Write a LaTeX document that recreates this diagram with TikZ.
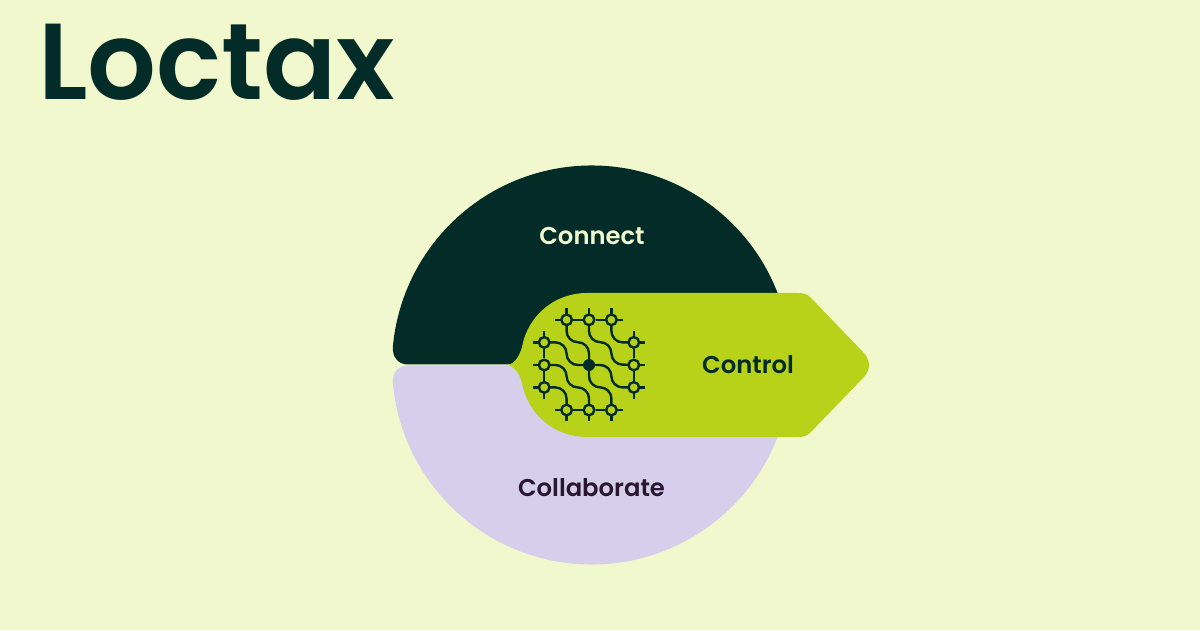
\documentclass[tikz,border=0pt]{standalone}
\usepackage{fontspec}
\usetikzlibrary{backgrounds}
\setmainfont{Poppins}[UprightFont=* SemiBold,BoldFont=* Bold]
\definecolor{bgc}{HTML}{F2F8CE}
\definecolor{darkc}{HTML}{032B27}
\definecolor{limec}{HTML}{B8D21A}
\definecolor{lilac}{HTML}{D5CFEC}
\definecolor{plum}{HTML}{2A1533}
\tikzset{
  wire/.style={draw=darkc,line width=2.4pt},
  port/.style={circle,draw=darkc,line width=2.4pt,fill=limec,inner sep=0pt,minimum size=10.6pt},
  hub/.style={circle,fill=darkc,inner sep=0pt,minimum size=12pt},
  lbl/.style={font=\fontsize{24.3}{25}\selectfont,anchor=base},
  dr/.style={out=-90,in=180},
  rd/.style={out=0,in=90},
}
\begin{document}
\begin{tikzpicture}[x=1pt,y=1pt]
\useasboundingbox (0,0) rectangle (1200,630);
\begin{scope}[on background layer]
\fill[bgc] (0,0) rectangle (1200,630);
% Collaborate half
\fill[lilac] (591.5,265) ++(-10:199.5) arc (-10:-174.8:199.5)
  .. controls (392.4,257) and (398,264.6) .. (408,264.6) -- (600,264.6) -- cycle;
% Connect half
\fill[darkc] (591.5,265) ++(10:199.5) arc (10:174.8:199.5)
  .. controls (392.4,273) and (398,265.5) .. (408,265.5) -- (600,265.5) -- cycle;
% Control arrow
\fill[limec] (508,265)
  .. controls (516,267) and (520,276) .. (522,283)
  .. controls (528,315) and (555,337) .. (587,337)
  -- (798,337) .. controls (803,337) and (807,336) .. (810,333)
  -- (863,278) .. controls (871,270) and (871,260) .. (863,252)
  -- (810,197) .. controls (807,194) and (803,193) .. (798,193)
  -- (587,193)
  .. controls (555,193) and (528,215) .. (522,247)
  .. controls (520,254) and (516,263) .. cycle;
\end{scope}
% Network ports
\node[port] (a2) at (566.6,310.2) {};
\node[port] (a3) at (589,310.2) {};
\node[port] (a4) at (611.4,310.2) {};
\node[port] (b1) at (544.2,287.6) {};
\node[port] (b5) at (633.8,287.6) {};
\node[port] (c1) at (544.2,265) {};
\node[hub]  (c3) at (589,265) {};
\node[port] (c5) at (633.8,265) {};
\node[port] (d1) at (544.2,242.6) {};
\node[port] (d5) at (633.8,242.6) {};
\node[port] (e2) at (566.6,220) {};
\node[port] (e3) at (589,220) {};
\node[port] (e4) at (611.4,220) {};
\begin{scope}[on background layer]
% Straight links
\draw[wire] (a2) -- (a3);
\draw[wire] (a3) -- (a4);
\draw[wire] (e2) -- (e3);
\draw[wire] (e3) -- (e4);
\draw[wire] (b1) -- (c1);
\draw[wire] (c1) -- (d1);
\draw[wire] (b5) -- (c5);
\draw[wire] (c5) -- (d5);
% Stubs
\foreach \n in {a2,a3,a4,b1,b5} \draw[wire] (\n.center) -- ++(0,11.5);
\foreach \n in {e2,e3,e4,d1,d5} \draw[wire] (\n.center) -- ++(0,-11.5);
\foreach \n in {a2,e2,b1,c1,d1} \draw[wire] (\n.center) -- ++(-11.5,0);
\foreach \n in {a4,e4,b5,c5,d5} \draw[wire] (\n.center) -- ++(11.5,0);
% Curved links
\draw[wire] (a2.center) -- ++(0,-11.2) to[dr] ++(11.2,-11.2) to[rd] ++(11.2,-11.2) -- (c3.center);
\draw[wire] (a3.center) -- ++(0,-11.2) to[dr] ++(11.2,-11.2) to[rd] ++(11.2,-11.2) to[dr] ++(11.2,-11.2) -- (c5.center);
\draw[wire] (a4.center) -- ++(0,-11.2) to[dr] ++(11.2,-11.4) -- (b5.center);
\draw[wire] (b1.center) -- ++(11.2,0) to[rd] ++(11.2,-11.3) to[dr] ++(11.2,-11.3) -- (c3.center);
\draw[wire] (c1.center) -- ++(11.2,0) to[rd] ++(11.2,-11.2) to[dr] ++(11.2,-11.2) to[rd] ++(11.2,-11.2) -- (e3.center);
\draw[wire] (d1.center) -- ++(11.2,0) to[rd] ++(11.2,-11.4) -- (e2.center);
\draw[wire] (c3.center) -- ++(11.2,0) to[rd] ++(11.2,-11.2) to[dr] ++(11.2,-11.2) -- (d5.center);
\draw[wire] (c3.center) -- ++(0,-11.2) to[dr] ++(11.2,-11.2) to[rd] ++(11.2,-11.2) -- (e4.center);
\end{scope}
% Labels
\node[lbl,text=bgc] (connect) at (592,385) {Connect};
\node[lbl,text=darkc] (control) at (748,256) {Control};
\node[lbl,text=plum] (collab) at (591.5,134) {Collaborate};
\node[anchor=base west,inner sep=0pt,text=darkc,font=\fontsize{108}{108}\selectfont] (logo) at (38,530) {Loctax};
\end{tikzpicture}
\end{document}
